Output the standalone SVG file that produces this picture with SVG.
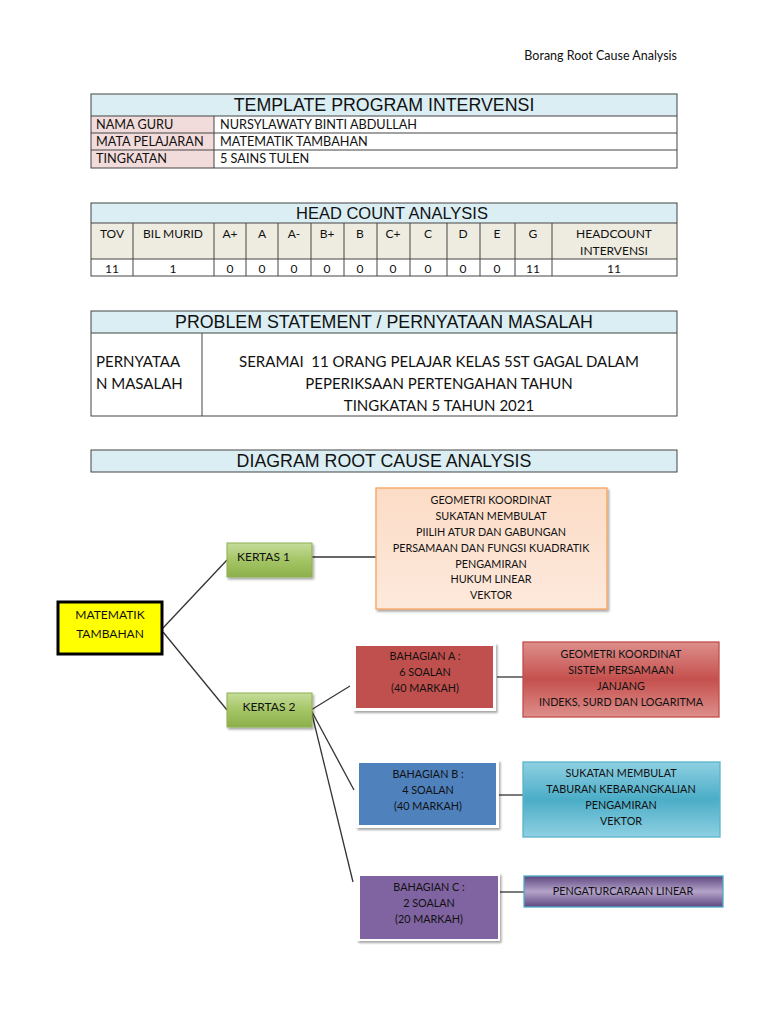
<svg xmlns="http://www.w3.org/2000/svg" width="768" height="1024" viewBox="0 0 768 1024">
<style>
.t{font-family:Lato,"Open Sans",sans-serif;font-size:12px;fill:#111}
.h{font-family:"Liberation Sans",Arial,sans-serif;font-size:17.8px;fill:#111;text-anchor:middle}
.c{text-anchor:middle}
.s{font-size:10.8px}
.m{font-size:12.7px}
.grid{fill:none;stroke:#444;stroke-width:1}
.conn{stroke:#333;stroke-width:1.3;fill:none}
</style>
<defs>
<linearGradient id="gGreen" x1="0" y1="0" x2="0" y2="1"><stop offset="0" stop-color="#c5dd9b"/><stop offset="0.5" stop-color="#a5c565"/><stop offset="1" stop-color="#8cb04b"/></linearGradient>
<linearGradient id="gPeach" x1="0" y1="0" x2="0" y2="1"><stop offset="0" stop-color="#fcdcc6"/><stop offset="1" stop-color="#fde9dc"/></linearGradient>
<linearGradient id="gRed" x1="0" y1="0" x2="0" y2="1"><stop offset="0" stop-color="#dd8f8c"/><stop offset="0.5" stop-color="#c5504d"/><stop offset="1" stop-color="#dd8f8c"/></linearGradient>
<linearGradient id="gTeal" x1="0" y1="0" x2="0" y2="1"><stop offset="0" stop-color="#8fd0e2"/><stop offset="0.5" stop-color="#4badc7"/><stop offset="1" stop-color="#8fd0e2"/></linearGradient>
<linearGradient id="gPurple" x1="0" y1="0" x2="0" y2="1"><stop offset="0" stop-color="#5f4780"/><stop offset="0.5" stop-color="#b4a3c9"/><stop offset="1" stop-color="#5f4780"/></linearGradient>
<filter id="sh" x="-10%" y="-10%" width="130%" height="140%"><feDropShadow dx="1.5" dy="2" stdDeviation="1.2" flood-color="#000" flood-opacity="0.35"/></filter>
</defs>
<rect width="768" height="1024" fill="#fff"/>
<text class="t" x="677" y="60" text-anchor="end" style="font-size:12.5px">Borang Root Cause Analysis</text>

<g id="table-template">
<rect x="91" y="94" width="586" height="22" fill="#daeef3"/>
<rect x="91" y="116" width="123" height="52" fill="#f2dcdb"/>
<rect class="grid" x="91" y="94" width="586" height="74"/>
<path class="grid" d="M91 116H677M91 133H677M91 150H677M214 116V168"/>
<text class="h" x="384" y="111">TEMPLATE PROGRAM INTERVENSI</text>
<g class="t m">
<text x="96" y="129">NAMA GURU</text>
<text x="96" y="146">MATA PELAJARAN</text>
<text x="96" y="163">TINGKATAN</text>
<text x="220" y="129">NURSYLAWATY BINTI ABDULLAH</text>
<text x="220" y="146">MATEMATIK TAMBAHAN</text>
<text x="220" y="163">5 SAINS TULEN</text>
</g>
</g>

<g id="table-headcount">
<rect x="91" y="203" width="586" height="20" fill="#daeef3"/>
<rect x="91" y="223" width="586" height="36" fill="#eeece1"/>
<rect class="grid" x="91" y="203" width="586" height="73"/>
<path class="grid" d="M91 223H677M91 259H677M133 223V276M214 223V276M246 223V276M278 223V276M311 223V276M344 223V276M377 223V276M410 223V276M447 223V276M480 223V276M515 223V276M552 223V276"/>
<text class="h" x="392" y="219" style="font-size:16.5px">HEAD COUNT ANALYSIS</text>
<g class="t c">
<text x="112" y="238">TOV</text><text x="173" y="238">BIL MURID</text><text x="230" y="238">A+</text><text x="262" y="238">A</text><text x="294" y="238">A-</text><text x="327" y="238">B+</text><text x="360" y="238">B</text><text x="393" y="238">C+</text><text x="428" y="238">C</text><text x="463" y="238">D</text><text x="497" y="238">E</text><text x="533" y="238">G</text><text x="614" y="238">HEADCOUNT</text><text x="614" y="255">INTERVENSI</text>
<text x="112" y="273">11</text><text x="173" y="273">1</text><text x="230" y="273">0</text><text x="262" y="273">0</text><text x="294" y="273">0</text><text x="327" y="273">0</text><text x="360" y="273">0</text><text x="393" y="273">0</text><text x="428" y="273">0</text><text x="463" y="273">0</text><text x="497" y="273">0</text><text x="533" y="273">11</text><text x="614" y="273">11</text>
</g>
</g>

<g id="table-problem">
<rect x="91" y="311" width="586" height="22" fill="#daeef3"/>
<rect class="grid" x="91" y="311" width="586" height="105"/>
<path class="grid" d="M91 333H677M202 333V416"/>
<text class="h" x="384" y="328">PROBLEM STATEMENT / PERNYATAAN MASALAH</text>
<text class="t" x="96" y="367" style="font-size:15px">PERNYATAA</text>
<text class="t" x="96" y="389" style="font-size:15px">N MASALAH</text>
<g class="t c" style="font-size:15px">
<text x="439" y="367" style="white-space:pre">SERAMAI  11 ORANG PELAJAR KELAS 5ST GAGAL DALAM</text>
<text x="439" y="389">PEPERIKSAAN PERTENGAHAN TAHUN</text>
<text x="439" y="411">TINGKATAN 5 TAHUN 2021</text>
</g>
</g>

<g id="title-diagram">
<rect x="91" y="450" width="586" height="22" fill="#daeef3" stroke="#444"/>
<text class="h" x="384" y="467">DIAGRAM ROOT CAUSE ANALYSIS</text>
</g>

<g id="connectors">
<path class="conn" d="M163 628L227 560"/>
<path class="conn" d="M163 632L227 710"/>
<path class="conn" d="M312 557H376"/>
<path class="conn" d="M311 710L350 686"/>
<path class="conn" d="M311 710L354 790"/>
<path class="conn" d="M311 710L353 882"/>
<path class="conn" d="M497 677H523"/>
<path class="conn" d="M498 795H523"/>
<path class="conn" d="M499 892H524"/>
</g>

<g id="node-matematik">
<rect x="58" y="602" width="104" height="52" fill="#ffff00" stroke="#000" stroke-width="3"/>
<text class="t c" x="110" y="619">MATEMATIK</text>
<text class="t c" x="110" y="638">TAMBAHAN</text>
</g>

<g id="node-kertas1">
<rect x="227" y="543" width="85" height="34" fill="url(#gGreen)" stroke="#8db04e" filter="url(#sh)"/>
<text class="t" x="237" y="561">KERTAS 1</text>
</g>

<g id="node-kertas2">
<rect x="227" y="693" width="85" height="34" fill="url(#gGreen)" stroke="#8db04e" filter="url(#sh)"/>
<text class="t c" x="269" y="711">KERTAS 2</text>
</g>

<g id="node-kertas1-topics">
<rect x="376" y="488" width="231" height="121" fill="url(#gPeach)" stroke="#f7a35c" stroke-width="1.3" filter="url(#sh)"/>
<g class="t c s">
<text x="491" y="504">GEOMETRI KOORDINAT</text>
<text x="491" y="520">SUKATAN MEMBULAT</text>
<text x="491" y="536">PIILIH ATUR DAN GABUNGAN</text>
<text x="491" y="552">PERSAMAAN DAN FUNGSI KUADRATIK</text>
<text x="491" y="568">PENGAMIRAN</text>
<text x="491" y="583">HUKUM LINEAR</text>
<text x="491" y="599">VEKTOR</text>
</g>
</g>

<g id="node-bahagian-a">
<rect x="353" y="643" width="143" height="68" fill="#fff" filter="url(#sh)"/>
<rect x="356" y="646" width="137" height="62" fill="#c0504d"/>
<g class="t c s">
<text x="425" y="660">BAHAGIAN A :</text>
<text x="425" y="676">6 SOALAN</text>
<text x="425" y="692">(40 MARKAH)</text>
</g>
</g>

<g id="node-topics-a">
<rect x="523" y="642" width="196" height="75" fill="url(#gRed)" stroke="#c24f4c" stroke-width="1.3"/>
<g class="t c s">
<text x="621" y="658">GEOMETRI KOORDINAT</text>
<text x="621" y="674">SISTEM PERSAMAAN</text>
<text x="621" y="690">JANJANG</text>
<text x="621" y="706">INDEKS, SURD DAN LOGARITMA</text>
</g>
</g>

<g id="node-bahagian-b">
<rect x="356" y="760" width="143" height="68" fill="#fff" filter="url(#sh)"/>
<rect x="359" y="763" width="137" height="62" fill="#4f81bd"/>
<g class="t c s">
<text x="428" y="778">BAHAGIAN B :</text>
<text x="428" y="794">4 SOALAN</text>
<text x="428" y="810">(40 MARKAH)</text>
</g>
</g>

<g id="node-topics-b">
<rect x="523" y="762" width="197" height="75" fill="url(#gTeal)" stroke="#58b4cc" stroke-width="1.3"/>
<g class="t c s">
<text x="621" y="777">SUKATAN MEMBULAT</text>
<text x="621" y="793">TABURAN KEBARANGKALIAN</text>
<text x="621" y="809">PENGAMIRAN</text>
<text x="621" y="825">VEKTOR</text>
</g>
</g>

<g id="node-bahagian-c">
<rect x="357" y="873" width="143" height="68" fill="#fff" filter="url(#sh)"/>
<rect x="360" y="876" width="138" height="63" fill="#8064a2"/>
<g class="t c s">
<text x="429" y="891">BAHAGIAN C :</text>
<text x="429" y="907">2 SOALAN</text>
<text x="429" y="923">(20 MARKAH)</text>
</g>
</g>

<g id="node-topics-c">
<rect x="524" y="876" width="199" height="31" fill="url(#gPurple)" stroke="#4bacc6" stroke-width="1.3"/>
<text class="t c s" x="623" y="895">PENGATURCARAAN LINEAR</text>
</g>
</svg>
